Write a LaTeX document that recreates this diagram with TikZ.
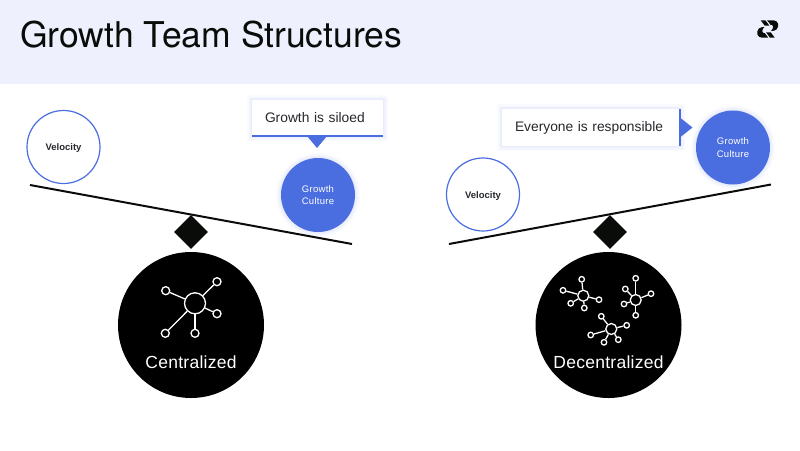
\documentclass[tikz,border=0pt]{standalone}
\usepackage{fontspec}
\setmainfont{Liberation Sans}
\newfontfamily\titlefont{TeX Gyre Heros}
\definecolor{hdr}{RGB}{238,241,253}
\definecolor{brand}{RGB}{74,110,224}
\definecolor{ink}{RGB}{10,12,10}
\definecolor{txt}{RGB}{38,40,44}
\usetikzlibrary{shapes.geometric}
\tikzset{
  x=1pt,y=-1pt,
  glow/.style={preaction={draw=brand,draw opacity=.025,line width=10pt},preaction={draw=brand,draw opacity=.03,line width=7pt},preaction={draw=brand,draw opacity=.03,line width=4.5pt},preaction={draw=brand,draw opacity=.04,line width=2pt}},
  velo/.style={circle,draw=brand,line width=1.2pt,fill=white,minimum size=73pt,inner sep=0pt,align=center,text=txt,font=\fontsize{9.5}{12}\selectfont\bfseries},
  culture/.style={circle,fill=brand,minimum size=74pt,inner sep=0pt,align=center,text=white,font=\fontsize{9.5}{12.5}\selectfont\addfontfeature{LetterSpace=3},glow},
  callout/.style={rectangle,fill=white,inner ysep=0pt,inner xsep=13pt,align=left,text=txt,font=\fontsize{13.8}{16}\selectfont,glow},
  beam/.style={draw=ink,line width=2pt},
  pivot/.style={diamond,fill=ink,minimum size=34pt,inner sep=0pt},
  base/.style={circle,fill=black,minimum size=146pt,inner sep=0pt},
  baselabel/.style={text=white,inner sep=0pt,font=\fontsize{17.5}{20}\selectfont\addfontfeature{LetterSpace=1.5}},
  hub/.style={circle,draw=white,line width=1.3pt,inner sep=0pt,minimum size=#1},
  leaf/.style={circle,draw=white,line width=1.3pt,inner sep=0pt,minimum size=#1},
  spoke/.style={draw=white,line width=1.3pt},
  tip/.style={fill=brand},
  logo/.style={fill=ink},
}
\newcommand{\netthree}[8]{%
  \node[hub=11pt] (#1h) at #2 {};
  \node[leaf=#8] (#1a) at #3 {};
  \node[leaf=#8] (#1b) at #4 {};
  \node[leaf=#8] (#1c) at #5 {};
  \node[leaf=#8] (#1d) at #6 {};
  \node[leaf=#8] (#1e) at #7 {};
  \foreach \n in {a,b,c,d,e} \draw[spoke] (#1h) -- (#1\n);
}
\newcommand{\logopart}{%
  \fill[logo] (767,20.3) -- (773.5,20.3) .. controls (778,20.3) and (780,26) .. (776.5,29.5) .. controls (775,30.7) and (773,31) .. (771,31) .. controls (774,28) and (774,24.6) .. (770,24.6) -- (770.5,24.6) -- cycle;
  \fill[logo] (760.7,20.3) -- (765.4,20.3) -- (769.4,25.7) -- (764.7,25.7) -- cycle;
}
\newcommand{\velotext}{\raisebox{-3.5pt}[0pt][0pt]{Velocity}}
\begin{document}
\begin{tikzpicture}
\useasboundingbox (0,0) rectangle (800,450);
\fill[white] (0,0) rectangle (800,450);
\fill[hdr] (0,0) rectangle (800,84);
\node[anchor=west,inner sep=0pt,text=ink,font=\titlefont\fontsize{35.5}{38}\selectfont] (title) at (20,35) {Growth Team Structures};

% logo
\logopart
\begin{scope}[rotate around={180:(767.7,29)}]
\logopart
\end{scope}

% left balance
\node[base] (bl) at (191,325) {};
\node[pivot] (pl) at (191,232) {};
\coordinate (bla) at (30,185);
\coordinate (blb) at (352,244);
\draw[beam] (bla) -- (blb);
\node[velo] (vl) at (63.5,147) {\velotext};
\node[culture] (cl) at (318,195) {Growth\\Culture};
\node[callout,text width=105pt,minimum height=36pt] (ca) at (317.5,118) {Growth is siloed};
\fill[brand] (252,134.6) rectangle (383,136.6);
\fill[tip] (307,136) -- (327,136) -- (317,148) -- cycle;

\node[hub=21pt] (ch) at (195,303.3) {};
\node[leaf=8pt] (c1) at (165.7,290.7) {};
\node[leaf=8pt] (c2) at (217,281.7) {};
\node[leaf=8pt] (c3) at (217,313.7) {};
\node[leaf=8pt] (c4) at (165.3,333.3) {};
\node[leaf=8pt] (c5) at (195,333.3) {};
\foreach \n in {1,...,5} \draw[spoke] (ch) -- (c\n);
\node[baselabel] (lc) at (191,362) {Centralized};

% right balance
\node[base] (br) at (608.5,325) {};
\node[pivot] (pr) at (610,232) {};
\coordinate (bra) at (449,244);
\coordinate (brb) at (771,184.5);
\draw[beam] (bra) -- (brb);
\node[velo] (vr) at (483,194.5) {\velotext};
\node[culture] (cr) at (733,147.5) {Growth\\Culture};
\node[callout,text width=152pt,minimum height=37pt] (cb) at (591,127.5) {Everyone is responsible};
\fill[brand] (679,109) rectangle (681,146);
\fill[tip] (680.5,118) -- (692.5,127.5) -- (680.5,137) -- cycle;

\netthree{p}{(583.3,295.7)}{(581.7,279.3)}{(563,290.3)}{(570.7,303.3)}{(584.3,308)}{(599,299.7)}{5.5pt}
\netthree{q}{(635.7,300)}{(635.7,278.3)}{(625.3,289)}{(624,304)}{(635.7,315.3)}{(651,293.7)}{5.5pt}
\netthree{r}{(611.3,329)}{(601.3,316.3)}{(626.7,325.3)}{(590.7,335)}{(604,342.3)}{(618.3,339.7)}{5.5pt}
\node[baselabel] (ld) at (608.5,362) {Decentralized};
\end{tikzpicture}
\end{document}
